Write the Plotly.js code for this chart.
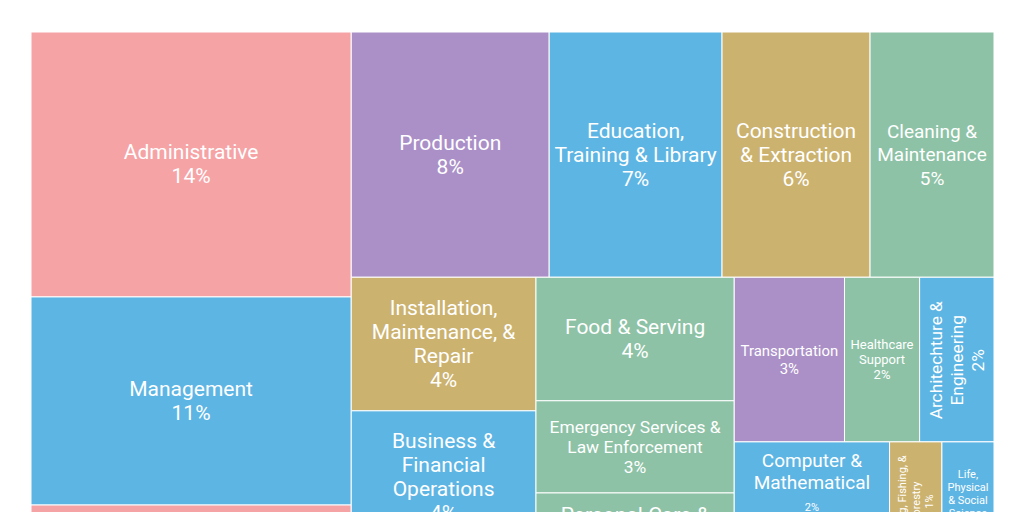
<!DOCTYPE html>
<html>
<head>
<meta charset="utf-8">
<script src="https://cdn.plot.ly/plotly-3.0.1.min.js"></script>
<style>html,body{margin:0;padding:0;overflow:hidden;background:#fff}</style>
</head>
<body>
<div id="chart" style="width:1024px;height:700px"></div>
<script>
// ---- data ----
const categories = [
  "Administrative",
  "Management",
  "Sales",
  "Production",
  "Education,<br>Training & Library",
  "Construction<br>& Extraction",
  "Cleaning &<br>Maintenance",
  "Installation,<br>Maintenance, &<br>Repair",
  "Business &<br>Financial<br>Operations",
  "Healthcare<br>Practitioners",
  "Food & Serving",
  "Emergency Services &<br>Law Enforcement",
  "Personal Care &<br>Service",
  "Arts, Design<br>& Media",
  "Transportation",
  "Healthcare<br>Support",
  "Architechture &<br>Engineering",
  "Computer &<br>Mathematical",
  "Community &<br>Social Services",
  "Sports &<br>Entertainment",
  "Farming, Fishing, &<br>Forestry",
  "Life,<br>Physical<br>& Social<br>Science",
  "Legal",
  "Military"
];
const shares = [
  13.65, 10.72, 8.86, 7.81, 6.82, 5.84, 4.89, 3.97, 3.96, 3.95,
  3.94, 2.94, 2.94, 2.93, 2.92, 1.99, 1.97, 1.96, 1.96, 1.955,
  0.995, 0.99, 0.985, 0.98
];
const groups = [
  "pink", "blue", "pink", "purple", "blue", "gold", "green", "gold", "blue", "green",
  "green", "green", "green", "purple", "purple", "green", "blue", "blue", "green", "purple",
  "gold", "blue", "pink", "gold"
];

// ---- styles ----
const palette = {pink:"#F6A3A6", purple:"#AB90C8", blue:"#5DB5E4", gold:"#CCB26F", green:"#8DC2A6"};
// glyph size of the label text and the base size that sets the line spacing
const glyphSize = {
  "Administrative":21, "Management":21, "Production":21,
  "Education,<br>Training & Library":21, "Construction<br>& Extraction":21,
  "Cleaning &<br>Maintenance":19, "Installation,<br>Maintenance, &<br>Repair":21,
  "Business &<br>Financial<br>Operations":21, "Food & Serving":21,
  "Emergency Services &<br>Law Enforcement":17.4, "Transportation":14.9,
  "Healthcare<br>Support":13, "Architechture &<br>Engineering":17.3,
  "Computer &<br>Mathematical":19, "Farming, Fishing, &<br>Forestry":11,
  "Life,<br>Physical<br>& Social<br>Science":11
};
const lineBase = {
  "Cleaning &<br>Maintenance":18, "Emergency Services &<br>Law Enforcement":15.4,
  "Transportation":13.9, "Healthcare<br>Support":11.5, "Architechture &<br>Engineering":16.2,
  "Computer &<br>Mathematical":17, "Farming, Fishing, &<br>Forestry":10.4,
  "Life,<br>Physical<br>& Social<br>Science":10
};
const smallPercent = {"Computer &<br>Mathematical": 11};
const rotatedPrefixes = ["Architechture", "Farming"];

const gOf = c => glyphSize[c] || 21;
const sOf = c => lineBase[c] || +(gOf(c) * 0.88).toFixed(2);

const trace = {
  type: "treemap",
  labels: categories,
  parents: categories.map(() => ""),
  values: shares,
  sort: true,
  tiling: {packing: "squarify", squarifyratio: 1.618, pad: 0},
  pathbar: {visible: false},
  marker: {
    colors: groups.map(g => palette[g]),
    line: {color: "#ffffff", width: 1},
    pad: {t: 0, l: 0, r: 0, b: 0}
  },
  leaf: {opacity: 1},
  textposition: "middle center",
  texttemplate: categories.map(c => smallPercent[c]
    ? `<span style='font-size:${gOf(c)}px'>%{label}</span><br><span style='font-size:${smallPercent[c]}px'>%{percentRoot:.0%}</span>`
    : `<span style='font-size:${gOf(c)}px'>%{label}<br>%{percentRoot:.0%}</span>`),
  textfont: {family: "Roboto, sans-serif", color: "#ffffff", size: categories.map(sOf)},
  hoverinfo: "skip"
};

const layout = {
  width: 1024,
  height: 700,
  margin: {l: 31, r: 30, t: 32, b: 23},
  paper_bgcolor: "#ffffff",
  font: {family: "Roboto, sans-serif"}
};

Plotly.newPlot("chart", [trace], layout, {staticPlot: true, displayModeBar: false}).then(gd => {
  gd.querySelectorAll("text.slicetext").forEach(t => {
    const txt = t.textContent || "";
    if (!rotatedPrefixes.some(p => txt.startsWith(p))) return;
    const slice = t.closest("g.slice");
    if (!slice) return;
    const path = slice.querySelector("path.surface");
    if (!path) return;
    const pb = path.getBBox();
    const tb = t.getBBox();
    const cx = pb.x + pb.width / 2, cy = pb.y + pb.height / 2;
    const tcx = tb.x + tb.width / 2, tcy = tb.y + tb.height / 2;
    t.setAttribute("transform", `translate(${cx},${cy}) rotate(-90) translate(${-tcx},${-tcy})`);
  });
});
</script>
</body>
</html>
